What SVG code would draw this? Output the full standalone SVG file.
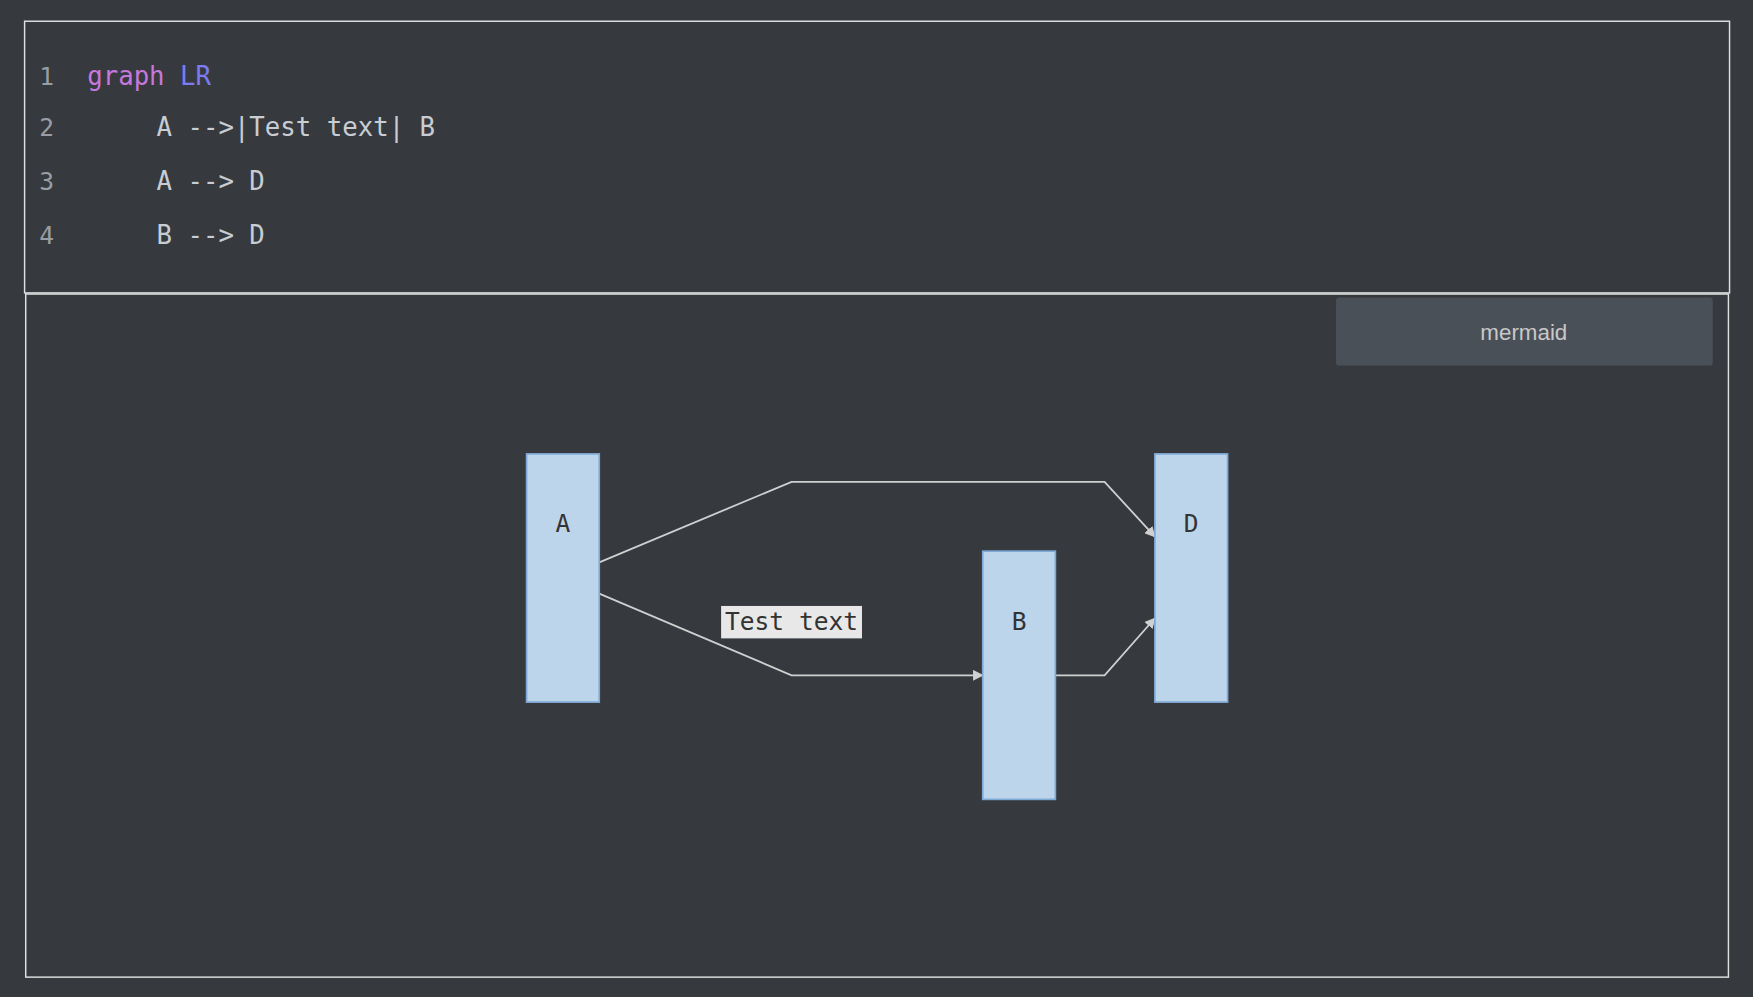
<svg xmlns="http://www.w3.org/2000/svg" width="1753" height="997" viewBox="0 0 1753 997">
<defs>
<style>
.code{font-family:"DejaVu Sans Mono","Liberation Mono",monospace;font-size:23px;fill:#c8cdd4}
.ln{font-family:"DejaVu Sans Mono","Liberation Mono",monospace;font-size:22px;fill:#9a9ea4}
.node rect{fill:#bdd5ea;stroke:#7fa9d6;stroke-width:1.5}
.node text{font-family:"DejaVu Sans Mono","Liberation Mono",monospace;font-size:22px;fill:#333;text-anchor:middle;dominant-baseline:middle}
.edge{fill:none;stroke:#d0d0d0;stroke-width:1.6;marker-end:url(#arr)}
</style>
<marker id="arr" viewBox="0 0 10 10" refX="9" refY="5" markerWidth="6" markerHeight="6" orient="auto"><path d="M0,0L10,5L0,10z" fill="#d0d0d0"/></marker>
</defs>
<rect width="1753" height="997" fill="#363a3f"/>
<g transform="scale(1.118)">
<rect x="22" y="19" width="1525" height="243" fill="none" stroke="#e0e0e0" stroke-width="1.3"/>
<rect x="23" y="263" width="1523" height="611" fill="none" stroke="#e0e0e0" stroke-width="1.3"/>
<g id="code">
<text class="ln" x="35" y="76">1</text>
<text class="ln" x="35" y="122">2</text>
<text class="ln" x="35" y="170">3</text>
<text class="ln" x="35" y="218">4</text>
<text class="code" x="78" y="76"><tspan fill="#c678dd">graph</tspan> <tspan fill="#7c7cf0">LR</tspan></text>
<text class="code" x="140" y="122">A --&gt;|Test text| B</text>
<text class="code" x="140" y="170">A --&gt; D</text>
<text class="code" x="140" y="218">B --&gt; D</text>
</g>
<g id="button">
<rect x="1195" y="266" width="337" height="61" rx="3" fill="#4a5058"/>
<text x="1363" y="304" text-anchor="middle" font-family="Liberation Sans,Arial,sans-serif" font-size="20" fill="#c8c8c8">mermaid</text>
</g>
<g id="connectors">
<polyline class="edge" points="536,503 708,431 988,431 1033,480"/>
<polyline class="edge" points="536,531 708,604 879,604"/>
<polyline class="edge" points="944,604 988,604 1033,553"/>
<rect x="645" y="542" width="126" height="29" fill="#e8e8e8"/>
<text x="708" y="557" text-anchor="middle" dominant-baseline="middle" font-family="DejaVu Sans Mono,Liberation Mono,monospace" font-size="22" fill="#333">Test text</text>
</g>
<g id="A" class="node"><rect x="471" y="406" width="65" height="222"/><text x="503.5" y="470">A</text></g>
<g id="B" class="node"><rect x="879" y="493" width="65" height="222"/><text x="911.5" y="557">B</text></g>
<g id="D" class="node"><rect x="1033" y="406" width="65" height="222"/><text x="1065.5" y="470">D</text></g>
</g>
</svg>
